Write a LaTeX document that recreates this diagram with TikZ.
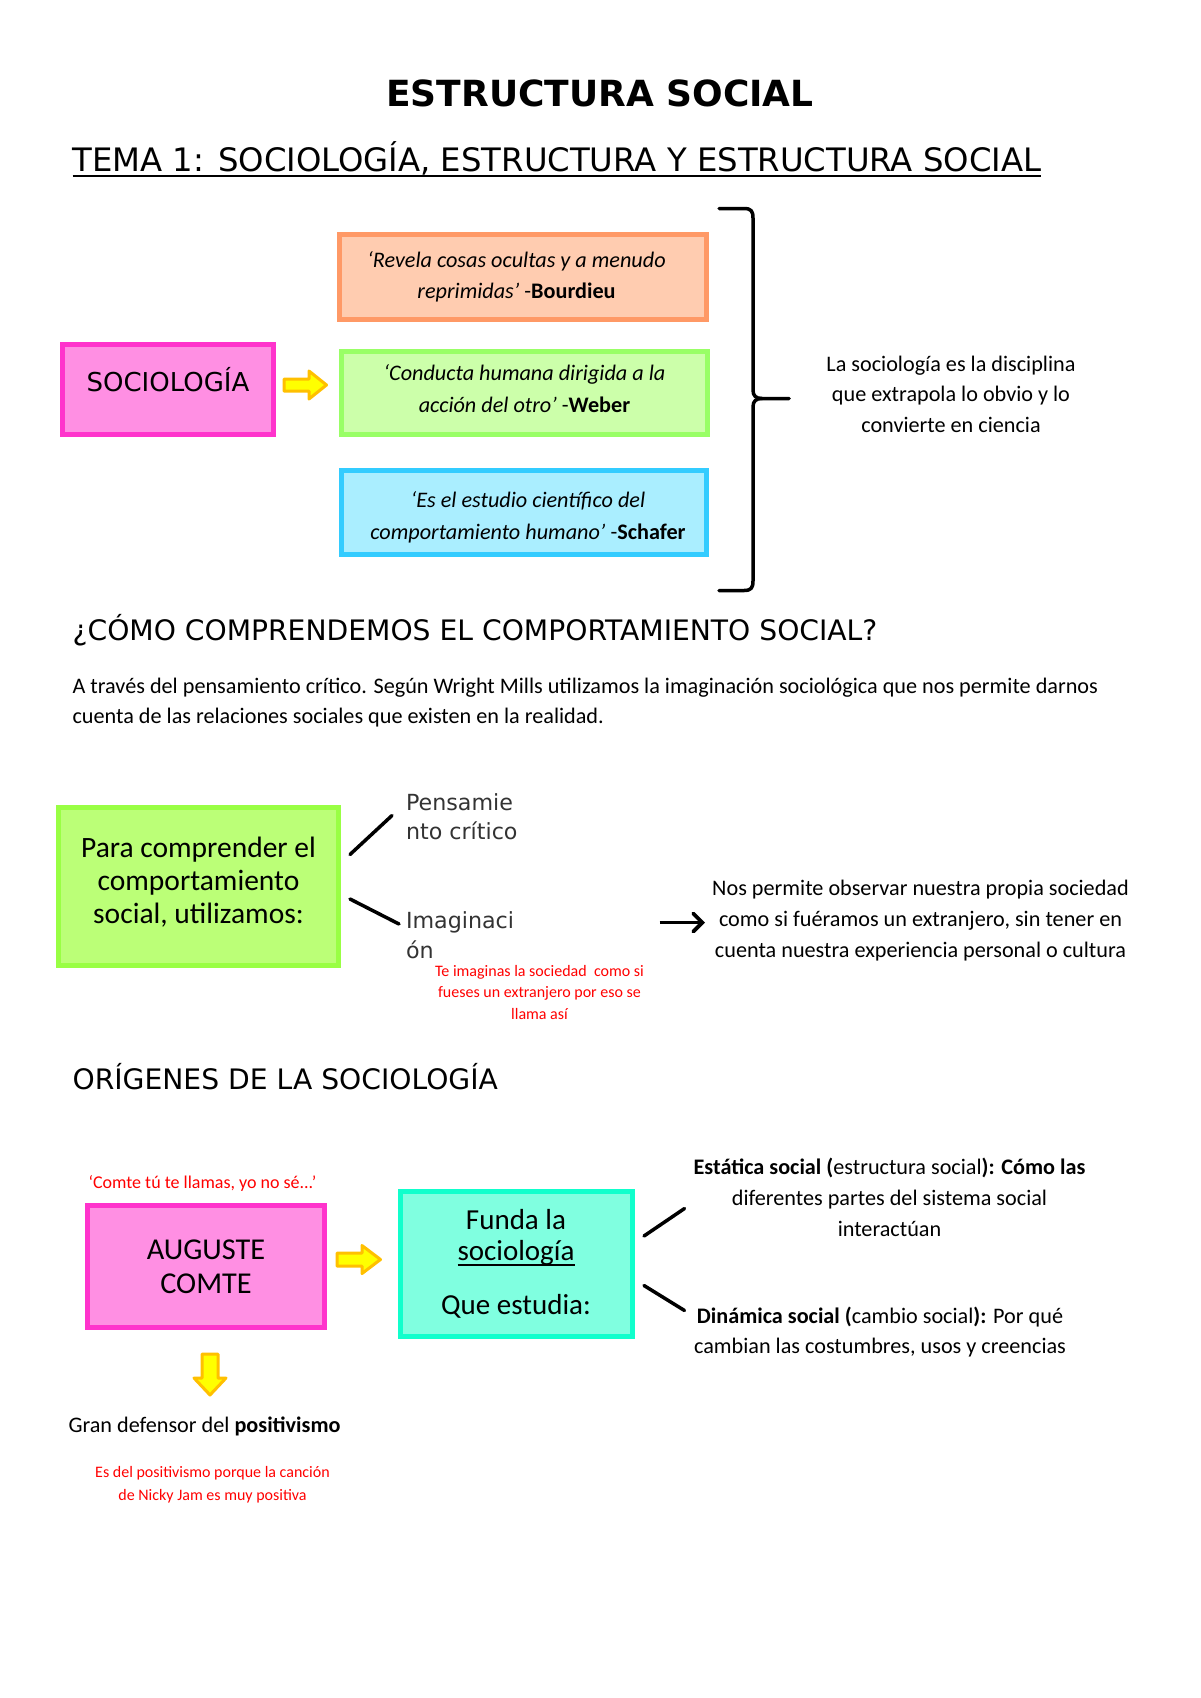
\documentclass[tikz,border=0pt]{standalone}
\usepackage{fontspec}
\setmainfont{Carlito}
\newfontfamily\dejavu{DejaVu Sans}
\usetikzlibrary{arrows.meta}
\newcommand\myUline[3]{\setbox0\hbox{#3}\rlap{\rule[-#1]{\wd0}{#2}}\box0}
\definecolor{magB}{HTML}{FF33CC}
\definecolor{magF}{HTML}{FF8FE3}
\definecolor{orB}{HTML}{FF9966}
\definecolor{orF}{HTML}{FFCCB0}
\definecolor{grB}{HTML}{99FF66}
\definecolor{grF}{HTML}{CCFFAA}
\definecolor{blB}{HTML}{33CCFF}
\definecolor{blF}{HTML}{AAEEFF}
\definecolor{gtB}{HTML}{99FF44}
\definecolor{gtF}{HTML}{BBFF77}
\definecolor{aqB}{HTML}{11FFCC}
\definecolor{aqF}{HTML}{80FFE0}
\definecolor{yelF}{HTML}{FFFF00}
\definecolor{yelB}{HTML}{FFC000}
\definecolor{redT}{HTML}{FF0000}
\definecolor{grayT}{HTML}{333333}
\begin{document}
\begin{tikzpicture}[x=1pt,y=-1pt,
  txt/.style={inner sep=0pt,outer sep=0pt,align=center},
  bodyf/.style={font=\fontsize{22.2}{31}\selectfont},
  box/.style={draw,line width=5pt,inner sep=0pt,align=center},
  link/.style={line width=3.5pt,line cap=round},
  yarr/.style={fill=yelF,draw=yelB,line width=3pt,line join=round},
  bracestyle/.style={line width=3.5pt,line cap=round,line join=round},
  rednote/.style={txt,text=redT},
  headf/.style={font=\dejavu\fontsize{28.2}{32}\selectfont}
]
\useasboundingbox (0,0) rectangle (1200,1698);
\fill[white] (0,0) rectangle (1200,1698);

% titles
\node[txt,anchor=base,font=\dejavu\bfseries\fontsize{36}{40}\selectfont] (title) at (600,106) {ESTRUCTURA SOCIAL};
\node[txt,anchor=base west,font=\dejavu\fontsize{32.3}{36}\selectfont] (tema) at (72.6,171) {\myUline{6pt}{2.5pt}{TEMA 1: SOCIOLOGÍA, ESTRUCTURA Y ESTRUCTURA SOCIAL}};

% section 1
\node[box,draw=magB,fill=magF,minimum width=211pt,minimum height=90pt,text height=18pt,text depth=14pt,font=\dejavu\fontsize{26}{30}\selectfont] (soc) at (168,389) {SOCIOLOGÍA};
\node[box,draw=orB,fill=orF,minimum width=367pt,minimum height=85pt,font=\fontsize{22.2}{31}\selectfont] (bour) at (523,277) {\textit{‘Revela cosas ocultas y a menudo}\hspace*{13pt}\\\textit{reprimidas’} -\textbf{Bourdieu}\hspace*{13pt}};
\node[box,draw=grB,fill=grF,minimum width=366pt,minimum height=83pt,text height=47pt,text depth=9pt,font=\fontsize{22.2}{31.5}\selectfont] (weber) at (524.5,393) {\textit{‘Conducta humana dirigida a la}\\\textit{acción del otro’} -\textbf{Weber}};
\node[box,draw=blB,fill=blF,minimum width=365pt,minimum height=84pt,text height=58pt,text depth=5pt,font=\fontsize{22.2}{32}\selectfont] (schafer) at (524,512.5) {\hspace*{8pt}\textit{‘Es el estudio científico del}\\\hspace*{8pt}\textit{comportamiento humano’} -\textbf{Schafer}};
\draw[yarr] (284,379) -- (309,379) -- (309,371) -- (326.5,385) -- (309,399) -- (309,391) -- (284,391) -- cycle;

\coordinate (brTop) at (719,208.5);
\coordinate (brBot) at (719,590.5);
\coordinate (brTip) at (789,398.5);
\draw[bracestyle] (brTop) -- (744,208.5) .. controls (751,208.5) and (753,211) .. (753,218) -- (753,390) .. controls (753,396) and (756,398.5) .. (762,398.5) -- (brTip);
\draw[bracestyle] (762,398.5) .. controls (756,398.5) and (753,401) .. (753,407) -- (753,581) .. controls (753,588) and (751,590.5) .. (744,590.5) -- (brBot);
\node[txt,font=\fontsize{22.2}{30.5}\selectfont,anchor=base] (defn) at (951,432) {La sociología es la disciplina\\que extrapola lo obvio y lo\\convierte en ciencia};

% section 2
\node[txt,anchor=base west,headf] (como) at (72.6,640) {¿CÓMO COMPRENDEMOS EL COMPORTAMIENTO SOCIAL?};
\node[txt,align=left,anchor=base west,font=\fontsize{22.2}{30.3}\selectfont] (parr) at (72.6,723.5) {A través del pensamiento crítico. Según Wright Mills utilizamos la imaginación sociológica que nos permite darnos\\cuenta de las relaciones sociales que existen en la realidad.};

\node[box,draw=gtB,fill=gtF,minimum width=280pt,minimum height=158pt,text height=86pt,text depth=11.6pt,font=\fontsize{29.5}{33}\selectfont] (usa) at (198.5,886.5) {Para comprender el\\comportamiento\\social, utilizamos:};
\node[txt,align=left,anchor=base west,text=grayT,font=\dejavu\fontsize{22.2}{29.5}\selectfont] (pens) at (406,839.5) {Pensamie\\nto crítico};
\node[txt,align=left,anchor=base west,text=grayT,font=\dejavu\fontsize{22.2}{29.5}\selectfont] (imag) at (406,958) {Imaginaci\\ón};
\coordinate (l1a) at (350,854.5);
\coordinate (l1b) at (392,815.5);
\coordinate (l2a) at (350,899);
\coordinate (l2b) at (399,924);
\draw[link] (l1a) -- (l1b);
\draw[link] (l2a) -- (l2b);
\node[rednote,font=\fontsize{16}{21.7}\selectfont,anchor=base] (note1) at (539.5,1019.5) {Te imaginas la sociedad \ como si\\fueses un extranjero por eso se\\llama así};
\node[txt,font=\fontsize{22.2}{31}\selectfont,anchor=base] (nos) at (920.5,957) {Nos permite observar nuestra propia sociedad\\como si fuéramos un extranjero, sin tener en\\cuenta nuestra experiencia personal o cultura};
\coordinate (arS) at (659.5,922.5);
\coordinate (arE) at (705,922.5);
\draw[line width=3.8pt,-{Straight Barb[length=9pt,width=18pt,line cap=round]}] (arS) -- (arE);

% section 3
\node[txt,anchor=base west,headf] (orig) at (72.6,1089.5) {ORÍGENES DE LA SOCIOLOGÍA};
\node[rednote,font=\fontsize{18}{20}\selectfont,anchor=base] (cq) at (202.5,1188) {‘Comte tú te llamas, yo no sé...’};
\node[box,draw=magB,fill=magF,minimum width=237.5pt,minimum height=122pt,font=\fontsize{30.3}{34}\selectfont] (comte) at (206,1266.5) {AUGUSTE\\COMTE};
\node[box,draw=aqB,fill=aqF,minimum width=232pt,minimum height=144.5pt,font=\fontsize{29}{31}\selectfont] (funda) at (516,1264) {Funda la\\\myUline{5pt}{1.8pt}{sociología}\\[22.7pt]Que estudia:};
\draw[yarr] (337,1253) -- (362,1253) -- (362,1245.5) -- (380.5,1259.5) -- (362,1273.5) -- (362,1266) -- (337,1266) -- cycle;
\draw[yarr] (202,1354) -- (218,1354) -- (218,1378) -- (226,1378) -- (210,1395) -- (194,1378) -- (202,1378) -- cycle;

\coordinate (l3a) at (644,1236);
\coordinate (l3b) at (684.5,1208.5);
\coordinate (l4a) at (644,1285.5);
\coordinate (l4b) at (684.5,1310.5);
\draw[link] (l3a) -- (l3b);
\draw[link] (l4a) -- (l4b);
\node[txt,bodyf,anchor=base] (estat) at (889.5,1236.5) {\textbf{Estática social (}estructura social\textbf{): Cómo las}\\diferentes partes del sistema social\\interactúan};
\node[txt,font=\fontsize{22.2}{29.5}\selectfont,anchor=base] (dinam) at (880,1353) {\textbf{Dinámica social (}cambio social\textbf{):} Por qué\\cambian las costumbres, usos y creencias};

\node[txt,bodyf,anchor=base] (gran) at (204.5,1432.5) {Gran defensor del \textbf{positivismo}};
\node[rednote,font=\fontsize{16}{23}\selectfont,anchor=base] (note2) at (212.5,1500.5) {Es del positivismo porque la canción\\de Nicky Jam es muy positiva};
\end{tikzpicture}
\end{document}
